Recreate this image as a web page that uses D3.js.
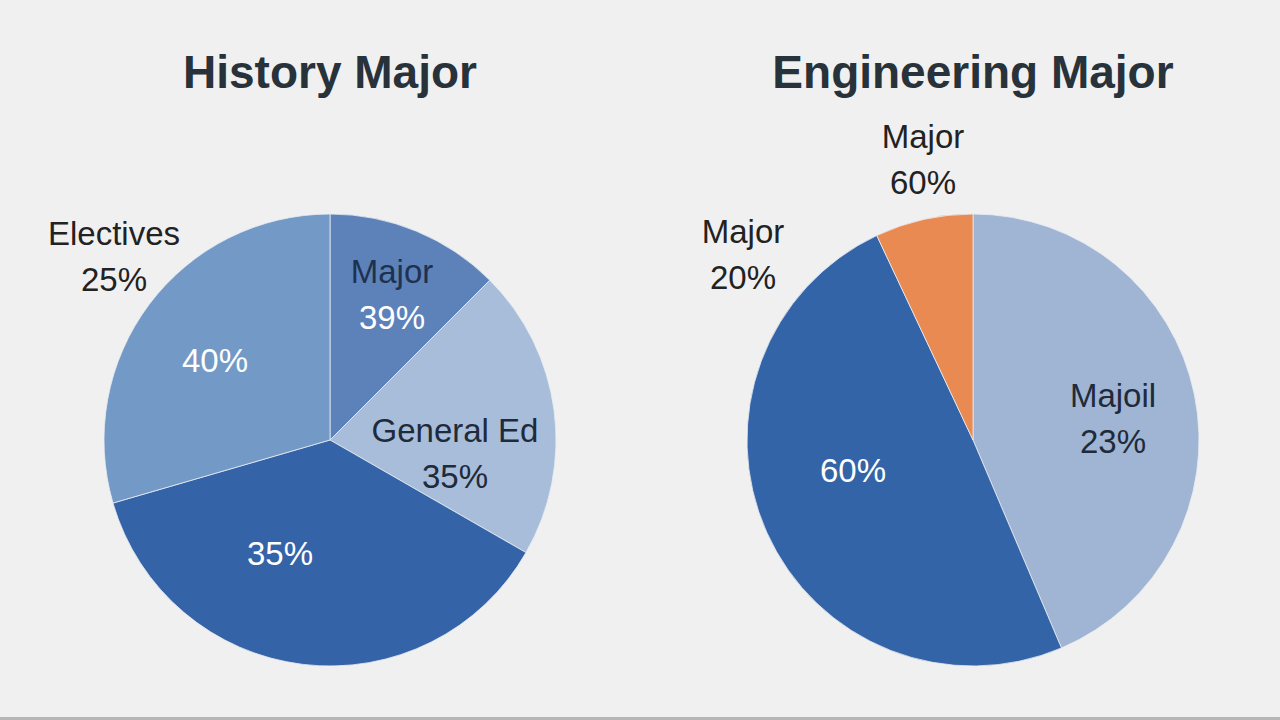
<!DOCTYPE html>
<html>
<head>
<meta charset="utf-8">
<script src="https://cdn.jsdelivr.net/npm/d3@7"></script>
<style>
  html, body { margin: 0; padding: 0; background: #f0f0f0; }
  svg { display: block; font-family: "Liberation Sans", Arial, sans-serif; }
</style>
</head>
<body>
<script>
// data (shares of the full circle)
const historyCats = ["Major", "General Ed", "Core", "Electives"];
const historyValues = [12.5, 20.8, 37.2, 29.5];
const historyColors = ["#5d82b9", "#a7bdd9", "#3463a8", "#7399c6"];

const engCats = ["Majoil", "Core", "Major"];
const engValues = [43.6, 49.4, 7.0];
const engColors = ["#9fb5d3", "#3464a8", "#e98a52"];

// label texts as printed on the chart
const historyLabels = [
  { lines: ["Electives", "25%"], dx: -216, dy: -183, fill: ["#222", "#222"] },
  { lines: ["Major", "39%"], dx: 62, dy: -145, fill: ["#1f3150", "#ffffff"] },
  { lines: ["40%"], dx: -115, dy: -79, fill: ["#ffffff"] },
  { lines: ["General Ed", "35%"], dx: 125, dy: 14, fill: ["#1f2a3a", "#1f2a3a"] },
  { lines: ["35%"], dx: -50, dy: 114, fill: ["#ffffff"] }
];
const engLabels = [
  { lines: ["Major", "60%"], dx: -50, dy: -280, fill: ["#222", "#222"] },
  { lines: ["Major", "20%"], dx: -230, dy: -185, fill: ["#222", "#222"] },
  { lines: ["Majoil", "23%"], dx: 140, dy: -21, fill: ["#1f2a3a", "#1f2a3a"] },
  { lines: ["60%"], dx: -120, dy: 31, fill: ["#ffffff"] }
];

const width = 1280;
const height = 720;
const radius = 226;

const svg = d3.select("body")
  .append("svg")
  .attr("width", width)
  .attr("height", height);

svg.append("rect")
  .attr("width", width)
  .attr("height", height)
  .attr("fill", "#f0f0f0");

const pie = d3.pie().sort(null).value(d => d);
const arc = d3.arc().innerRadius(0).outerRadius(radius);

drawPie("History Major", historyValues, historyColors, historyLabels, 330, 440);
drawPie("Engineering Major", engValues, engColors, engLabels, 973, 440);

// bottom rule
svg.append("rect")
  .attr("x", 0)
  .attr("y", height - 3)
  .attr("width", width)
  .attr("height", 3)
  .attr("fill", "#b2b6b6");

function drawPie(title, values, colors, labels, cx, cy) {
  svg.append("text")
    .attr("x", cx)
    .attr("y", 88)
    .attr("text-anchor", "middle")
    .attr("font-size", 46)
    .attr("font-weight", "bold")
    .attr("fill", "#28323a")
    .text(title);

  const g = svg.append("g")
    .attr("transform", "translate(" + cx + "," + cy + ")");

  g.selectAll("path")
    .data(pie(values))
    .enter()
    .append("path")
    .attr("d", arc)
    .attr("fill", (d, i) => colors[i])
    .attr("stroke", "#e8ecf2")
    .attr("stroke-width", 0.8);

  const lab = g.selectAll("g.label")
    .data(labels)
    .enter()
    .append("g")
    .attr("class", "label")
    .attr("transform", d => "translate(" + d.dx + "," + d.dy + ")");

  lab.each(function (d) {
    const n = d.lines.length;
    d.lines.forEach((t, i) => {
      d3.select(this).append("text")
        .attr("text-anchor", "middle")
        .attr("y", (i - (n - 1) / 2) * 46 + 11)
        .attr("font-size", 33)
        .attr("fill", d.fill[i])
        .text(t);
    });
  });
}
</script>
</body>
</html>
